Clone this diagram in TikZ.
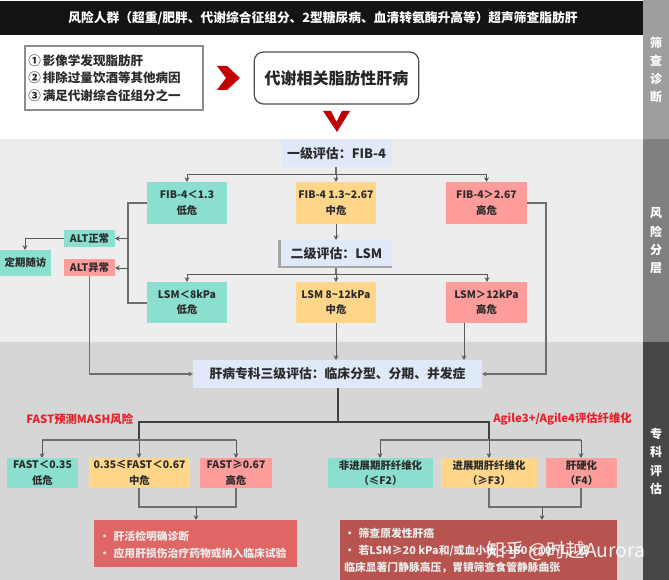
\documentclass[tikz,border=0pt]{standalone}
\usepackage{fontspec}
\setmainfont{Noto Sans CJK SC}
\usetikzlibrary{arrows.meta}
\definecolor{cgreen}{HTML}{8ADFCF}
\definecolor{cyellow}{HTML}{FFD68A}
\definecolor{cred}{HTML}{FF9C9C}
\definecolor{cblue}{HTML}{DFE9FA}
\definecolor{ctext}{HTML}{2B2B2B}
\definecolor{clabel}{HTML}{E8202A}
\definecolor{cline}{HTML}{6F6F6F}
\definecolor{cchev}{HTML}{C00000}
\definecolor{coa}{HTML}{E06666}
\definecolor{cob}{HTML}{B85450}
\tikzset{
  px/.style={x=0.75pt,y=-0.75pt},
  flat/.style={inner sep=0pt,outer sep=0pt,text=ctext,font=\fontsize{7.8}{11.6}\selectfont\bfseries,align=center},
  conn/.style={draw=cline,line width=0.9pt},
  darkconn/.style={draw=black!75,line width=1pt},
  arr/.style={-{Stealth[length=3.6pt,width=3.6pt]},draw=cline,line width=0.9pt},
  thin arr/.style={-{Stealth[length=3.6pt,width=3.6pt]},draw=black!65,line width=0.7pt},
  sidetext/.style={text=white,font=\fontsize{9}{13.7}\selectfont\bfseries,align=center,inner sep=0pt},
  redlabel/.style={text=clabel,font=\fontsize{8.5}{10}\selectfont\bfseries,inner sep=0pt},
  chev/.style={fill=cchev,draw=none},
  listtext/.style={text=white!92!black,font=\fontsize{8.1}{12.7}\selectfont\bfseries,align=left,inner sep=0pt,anchor=west},
}
\newcommand{\boxnode}[7]{\fill[#2] (#3,#4) rectangle (#5,#6);
  \node[flat] (#1) at ({(#3+#5)/2},{(#4+#6)/2}) {#7};
  \path (#3,#4) coordinate (#1-nw) (#5,#6) coordinate (#1-se);}
\begin{document}
\begin{tikzpicture}[px]
\useasboundingbox (0,0) rectangle (669,580);
% bands
\fill[white] (0,0) rectangle (669,580);
\fill[black!92] (0,1) rectangle (643,35);
\fill[black!7] (0,139) rectangle (643,342);
\fill[black!16] (0,342) rectangle (643,580);
\fill[black!38] (643,0) rectangle (669,139);
\fill[black!50] (643,139) rectangle (669,342);
\fill[black!72] (643,342) rectangle (669,580);
\node[sidetext] (s1) at (656,70) {筛\\查\\诊\\断};
\node[sidetext] (s2) at (656,241) {风\\险\\分\\层};
\node[sidetext] (s3) at (656,461.5) {专\\科\\评\\估};
\node[text=white,font=\fontsize{9.55}{11}\selectfont\bfseries,inner sep=0pt] (top) at (323,18.5) {风险人群（超重/肥胖、代谢综合征组分、2型糖尿病、血清转氨酶升高等）超声筛查脂肪肝};
% criteria
\node[draw=black!45,line width=0.9pt,fill=white,minimum width=133.5pt,minimum height=48pt,inner sep=0pt] (crit) at (114,78) {};
\node[text=ctext,font=\fontsize{9.4}{13}\selectfont\bfseries,align=left,inner sep=0pt,anchor=west] (critt) at (28,78) {①\,影像学发现脂肪肝\\②\,排除过量饮酒等其他病因\\③\,满足代谢综合征组分之一};
\path[chev] (217,66) -- (227,66) -- (240,78) -- (227,90) -- (217,90) -- (226,78) -- cycle;
\node[draw=black!70,line width=0.9pt,rounded corners=7pt,fill=white,minimum width=123.5pt,minimum height=39pt,inner sep=0pt,text=black!85,font=\fontsize{12}{14}\selectfont\bfseries] (mafld) at (336.5,78) {代谢相关脂肪性肝病};
\path[chev] (323,111) -- (331,111) -- (336.5,122) -- (342,111) -- (350,111) -- (337,132) -- cycle;
% level 1
\boxnode{l1}{cblue}{281}{140}{392}{167}{\fontsize{9.7}{11}\selectfont 一级评估：FIB-4}
\boxnode{fl}{cgreen}{147}{182}{227}{224}{FIB-4＜1.3\\低危}
\boxnode{fm}{cyellow}{296}{182}{376}{224}{FIB-4 1.3\textasciitilde 2.67\\中危}
\boxnode{fh}{cred}{446}{182}{527}{224}{FIB-4＞2.67\\高危}
% level 2
\fill[black!35] (278,240) rectangle (392,268);
\boxnode{l2}{cblue}{281}{240}{392}{266.5}{\fontsize{9.7}{11}\selectfont 二级评估：LSM}
\boxnode{ll}{cgreen}{147}{282}{227}{323}{LSM＜8kPa\\低危}
\boxnode{lm}{cyellow}{296}{282}{376}{323}{LSM 8\textasciitilde 12kPa\\中危}
\boxnode{lh}{cred}{446}{282}{527}{323}{LSM＞12kPa\\高危}
% ALT
\boxnode{an}{cgreen}{64}{230}{115}{247}{ALT正常}
\boxnode{aa}{cred}{64}{259}{115}{276}{ALT异常}
\boxnode{fu}{cgreen}{0}{250}{51}{276}{定期随访}
% level 3
\boxnode{l3}{cblue}{193}{360}{482}{388}{\fontsize{9.6}{11}\selectfont 肝病专科三级评估：临床分型、分期、并发症}
\node[redlabel,anchor=west] (lf) at (26,419) {FAST预测MASH风险};
\node[redlabel,anchor=west] (la) at (493,419) {Agile3+/Agile4评估纤维化};
% FAST
\boxnode{f1}{cgreen}{7}{458}{78}{488}{FAST＜0.35\\低危}
\boxnode{f2}{cyellow}{89}{458}{190}{488}{0.35≤FAST＜0.67\\中危}
\boxnode{f3}{cred}{200}{458}{272}{488}{FAST≥0.67\\高危}
\boxnode{a1}{cgreen}{328}{458}{433}{488}{非进展期肝纤维化\\（≤F2）}
\boxnode{a2}{cyellow}{441}{458}{537}{488}{进展期肝纤维化\\（≥F3）}
\boxnode{a3}{cred}{546}{458}{617}{488}{肝硬化\\（F4）}
% outcome
\fill[coa] (94,520) rectangle (297,567);
\node[listtext] (o1) at (99,544.5) {·\,\,肝活检明确诊断\\·\,\,应用肝损伤治疗药物或纳入临床试验};
\fill[cob] (340,520) rectangle (617,580);
\node[listtext] (o2) at (344,551) {·\,\,筛查原发性肝癌\\·\,\,若LSM≥20 kPa和/或血小板＜150×10\textsuperscript{9}/L，或\\临床显著门静脉高压，胃镜筛查食管静脉曲张};
% connectors level 1
\coordinate (b1) at (336,174);
\draw[conn] (336,167) -- (b1);
\draw[thin arr] (b1) -| (fl.center |- 0,182);
\draw[thin arr] (b1) -| (fh.center |- 0,182);
\draw[thin arr] (b1) -- (336,182);
\draw[thin arr] (336,224) -- (336,240);
\coordinate (b2) at (336,274);
\draw[conn] (336,268) -- (b2);
\draw[thin arr] (b2) -| (187,282);
\draw[thin arr] (b2) -| (487,282);
\draw[thin arr] (b2) -- (336,282);
% ALT connectors
\draw[conn] (147,203) -- (128,203) -- (128,303) -- (147,303);
\draw[thin arr] (128,238.5) -- (115,238.5);
\draw[thin arr] (128,268) -- (115,268);
\draw[thin arr] (64,238.5) -- (25,238.5) -- (25,250);
\draw[arr] (89.5,276) -- (89.5,374) -- (193,374);
% to level 3
\draw[thin arr] (336,323) -- (336,360);
\draw[thin arr] (464,323) -- (464,360);
\draw[arr] (527,203) -- (546,203) -- (546,374) -- (482,374);
% level 3 down
\draw[darkconn] (338,388) -- (338,422);
\draw[darkconn] (139,440) -- (139,422) -- (489,422) -- (489,440);
\draw[thin arr] (139,440) -- (139,458);
\draw[thin arr] (489,440) -- (489,458);
\draw[conn] (42,440) -- (236,440);
\draw[thin arr] (42,440) -- (42,458);
\draw[thin arr] (236,440) -- (236,458);
\draw[conn] (380,440) -- (581,440);
\draw[thin arr] (380,440) -- (380,458);
\draw[thin arr] (581,440) -- (581,458);
% merge
\draw[conn] (139,488) -- (139,507) -- (236,507) -- (236,488);
\draw[thin arr] (196,507) -- (196,520);
\draw[conn] (489,488) -- (489,507) -- (581,507) -- (581,488);
\draw[thin arr] (542,507) -- (542,520);
% watermark
\node[text=white,opacity=0.9,font=\fontsize{14.5}{16}\selectfont,inner sep=0pt,anchor=west] (wm) at (486,551) {知乎\,@时越Aurora};
\end{tikzpicture}
\end{document}
